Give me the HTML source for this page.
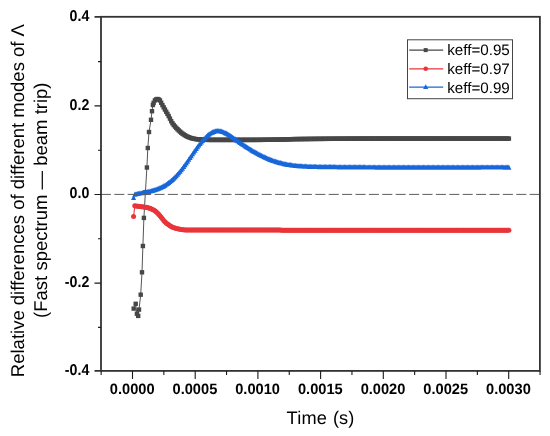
<!DOCTYPE html>
<html><head><meta charset="utf-8"><title>Relative differences of different modes of Λ</title>
<style>html,body{margin:0;padding:0;background:#fff;width:550px;height:436px;overflow:hidden}svg{display:block}</style>
</head><body>
<svg width="550" height="436" viewBox="0 0 550 436" text-rendering="geometricPrecision">
<rect width="550" height="436" fill="#fff"/>
<g fill="#474747"><polyline points="133.70,308.60 135.70,303.80 136.90,313.70 138.20,315.90 139.00,309.60 140.70,294.70 142.00,272.30 142.90,246.00 143.90,217.90 145.40,192.30 146.90,167.50 147.80,148.00 149.00,132.00 151.00,119.80 152.00,111.20 152.90,105.00 153.64,102.87 154.90,100.40 156.15,99.44 157.41,99.00 158.66,99.41 159.92,100.42 161.17,102.74 162.43,105.12 163.68,107.34 164.94,109.54 166.19,111.71 167.45,113.86 168.70,116.09 169.96,118.63 171.21,121.19 172.47,123.30 173.72,125.01 174.98,126.53 176.24,127.90 177.49,129.19 178.75,130.43 180.00,131.60 181.26,132.68 182.51,133.66 183.77,134.52 185.02,135.32 186.28,136.04 187.53,136.68 188.79,137.21 190.04,137.69 191.30,138.12 192.55,138.49 193.81,138.77 195.06,138.97 196.32,139.15 197.58,139.30 198.83,139.41 200.09,139.51 201.34,139.58 202.60,139.66 203.85,139.72 205.11,139.78 206.36,139.83 207.62,139.87 208.87,139.89 210.13,139.90 211.38,139.90 212.64,139.90 213.89,139.90 215.15,139.90 216.41,139.90 217.66,139.90 218.92,139.90 220.17,139.90 221.43,139.90 222.68,139.90 223.94,139.90 225.19,139.90 226.45,139.90 227.70,139.90 228.96,139.90 230.21,139.90 231.47,139.90 232.72,139.90 233.98,139.90 235.23,139.90 236.49,139.90 237.75,139.90 239.00,139.90 240.26,139.90 241.51,139.90 242.77,139.90 244.02,139.90 245.28,139.90 246.53,139.90 247.79,139.90 249.04,139.90 250.30,139.90 251.55,139.90 252.81,139.90 254.06,139.89 255.32,139.89 256.57,139.88 257.83,139.87 259.09,139.87 260.34,139.86 261.60,139.85 262.85,139.83 264.11,139.82 265.36,139.81 266.62,139.79 267.87,139.78 269.13,139.76 270.38,139.75 271.64,139.73 272.89,139.71 274.15,139.69 275.40,139.67 276.66,139.65 277.91,139.63 279.17,139.61 280.43,139.59 281.68,139.56 282.94,139.52 284.19,139.48 285.45,139.43 286.70,139.37 287.96,139.32 289.21,139.27 290.47,139.22 291.72,139.17 292.98,139.14 294.23,139.11 295.49,139.09 296.74,139.08 298.00,139.07 299.25,139.06 300.51,139.05 301.77,139.03 303.02,139.02 304.28,139.01 305.53,139.00 306.79,138.99 308.04,138.98 309.30,138.97 310.55,138.95 311.81,138.94 313.06,138.93 314.32,138.92 315.57,138.91 316.83,138.90 318.08,138.89 319.34,138.88 320.60,138.88 321.85,138.87 323.11,138.86 324.36,138.85 325.62,138.84 326.87,138.83 328.13,138.82 329.38,138.81 330.64,138.81 331.89,138.80 333.15,138.79 334.40,138.78 335.66,138.78 336.91,138.77 338.17,138.76 339.42,138.76 340.68,138.75 341.94,138.74 343.19,138.74 344.45,138.73 345.70,138.72 346.96,138.72 348.21,138.71 349.47,138.71 350.72,138.70 351.98,138.70 353.23,138.69 354.49,138.69 355.74,138.68 357.00,138.68 358.25,138.67 359.51,138.67 360.76,138.66 362.02,138.66 363.28,138.66 364.53,138.65 365.79,138.65 367.04,138.64 368.30,138.64 369.55,138.64 370.81,138.63 372.06,138.63 373.32,138.63 374.57,138.63 375.83,138.62 377.08,138.62 378.34,138.62 379.59,138.62 380.85,138.61 382.10,138.61 383.36,138.61 384.62,138.61 385.87,138.61 387.13,138.61 388.38,138.61 389.64,138.60 390.89,138.60 392.15,138.60 393.40,138.60 394.66,138.60 395.91,138.60 397.17,138.60 398.42,138.60 399.68,138.60 400.93,138.60 402.19,138.60 403.44,138.60 404.70,138.60 405.96,138.60 407.21,138.60 408.47,138.60 409.72,138.60 410.98,138.60 412.23,138.60 413.49,138.60 414.74,138.60 416.00,138.60 417.25,138.60 418.51,138.60 419.76,138.60 421.02,138.60 422.27,138.60 423.53,138.60 424.78,138.60 426.04,138.60 427.30,138.60 428.55,138.60 429.81,138.60 431.06,138.60 432.32,138.60 433.57,138.60 434.83,138.60 436.08,138.60 437.34,138.60 438.59,138.60 439.85,138.60 441.10,138.60 442.36,138.60 443.61,138.60 444.87,138.60 446.13,138.60 447.38,138.60 448.64,138.60 449.89,138.60 451.15,138.60 452.40,138.60 453.66,138.60 454.91,138.60 456.17,138.60 457.42,138.60 458.68,138.60 459.93,138.60 461.19,138.60 462.44,138.60 463.70,138.60 464.95,138.60 466.21,138.60 467.47,138.60 468.72,138.60 469.98,138.60 471.23,138.60 472.49,138.60 473.74,138.60 475.00,138.60 476.25,138.60 477.51,138.60 478.76,138.60 480.02,138.60 481.27,138.60 482.53,138.60 483.78,138.60 485.04,138.60 486.29,138.60 487.55,138.60 488.81,138.60 490.06,138.60 491.32,138.60 492.57,138.60 493.83,138.60 495.08,138.60 496.34,138.60 497.59,138.60 498.85,138.60 500.10,138.60 501.36,138.60 502.61,138.60 503.87,138.60 505.12,138.60 506.38,138.60 507.63,138.60 508.89,138.60" fill="none" stroke="#555" stroke-width="1.0"/><rect x="131.50" y="306.40" width="4.4" height="4.4"/><rect x="133.50" y="301.60" width="4.4" height="4.4"/><rect x="134.70" y="311.50" width="4.4" height="4.4"/><rect x="136.00" y="313.70" width="4.4" height="4.4"/><rect x="136.80" y="307.40" width="4.4" height="4.4"/><rect x="138.50" y="292.50" width="4.4" height="4.4"/><rect x="139.80" y="270.10" width="4.4" height="4.4"/><rect x="140.70" y="243.80" width="4.4" height="4.4"/><rect x="141.70" y="215.70" width="4.4" height="4.4"/><rect x="143.20" y="190.10" width="4.4" height="4.4"/><rect x="144.70" y="165.30" width="4.4" height="4.4"/><rect x="145.60" y="145.80" width="4.4" height="4.4"/><rect x="146.80" y="129.80" width="4.4" height="4.4"/><rect x="148.80" y="117.60" width="4.4" height="4.4"/><rect x="149.80" y="109.00" width="4.4" height="4.4"/><rect x="150.70" y="102.80" width="4.4" height="4.4"/><rect x="151.44" y="100.67" width="4.4" height="4.4"/><rect x="152.70" y="98.20" width="4.4" height="4.4"/><rect x="153.95" y="97.24" width="4.4" height="4.4"/><rect x="155.21" y="96.80" width="4.4" height="4.4"/><rect x="156.46" y="97.21" width="4.4" height="4.4"/><rect x="157.72" y="98.22" width="4.4" height="4.4"/><rect x="158.97" y="100.54" width="4.4" height="4.4"/><rect x="160.23" y="102.92" width="4.4" height="4.4"/><rect x="161.48" y="105.14" width="4.4" height="4.4"/><rect x="162.74" y="107.34" width="4.4" height="4.4"/><rect x="163.99" y="109.51" width="4.4" height="4.4"/><rect x="165.25" y="111.66" width="4.4" height="4.4"/><rect x="166.50" y="113.89" width="4.4" height="4.4"/><rect x="167.76" y="116.43" width="4.4" height="4.4"/><rect x="169.01" y="118.99" width="4.4" height="4.4"/><rect x="170.27" y="121.10" width="4.4" height="4.4"/><rect x="171.52" y="122.81" width="4.4" height="4.4"/><rect x="172.78" y="124.33" width="4.4" height="4.4"/><rect x="174.04" y="125.70" width="4.4" height="4.4"/><rect x="175.29" y="126.99" width="4.4" height="4.4"/><rect x="176.55" y="128.23" width="4.4" height="4.4"/><rect x="177.80" y="129.40" width="4.4" height="4.4"/><rect x="179.06" y="130.48" width="4.4" height="4.4"/><rect x="180.31" y="131.46" width="4.4" height="4.4"/><rect x="181.57" y="132.32" width="4.4" height="4.4"/><rect x="182.82" y="133.12" width="4.4" height="4.4"/><rect x="184.08" y="133.84" width="4.4" height="4.4"/><rect x="185.33" y="134.48" width="4.4" height="4.4"/><rect x="186.59" y="135.01" width="4.4" height="4.4"/><rect x="187.84" y="135.49" width="4.4" height="4.4"/><rect x="189.10" y="135.92" width="4.4" height="4.4"/><rect x="190.35" y="136.29" width="4.4" height="4.4"/><rect x="191.61" y="136.57" width="4.4" height="4.4"/><rect x="192.87" y="136.77" width="4.4" height="4.4"/><rect x="194.12" y="136.95" width="4.4" height="4.4"/><rect x="195.38" y="137.10" width="4.4" height="4.4"/><rect x="196.63" y="137.21" width="4.4" height="4.4"/><rect x="197.89" y="137.31" width="4.4" height="4.4"/><rect x="199.14" y="137.38" width="4.4" height="4.4"/><rect x="200.40" y="137.46" width="4.4" height="4.4"/><rect x="201.65" y="137.52" width="4.4" height="4.4"/><rect x="202.91" y="137.58" width="4.4" height="4.4"/><rect x="204.16" y="137.63" width="4.4" height="4.4"/><rect x="205.42" y="137.67" width="4.4" height="4.4"/><rect x="206.67" y="137.69" width="4.4" height="4.4"/><rect x="207.93" y="137.70" width="4.4" height="4.4"/><rect x="209.18" y="137.70" width="4.4" height="4.4"/><rect x="210.44" y="137.70" width="4.4" height="4.4"/><rect x="211.69" y="137.70" width="4.4" height="4.4"/><rect x="212.95" y="137.70" width="4.4" height="4.4"/><rect x="214.21" y="137.70" width="4.4" height="4.4"/><rect x="215.46" y="137.70" width="4.4" height="4.4"/><rect x="216.72" y="137.70" width="4.4" height="4.4"/><rect x="217.97" y="137.70" width="4.4" height="4.4"/><rect x="219.23" y="137.70" width="4.4" height="4.4"/><rect x="220.48" y="137.70" width="4.4" height="4.4"/><rect x="221.74" y="137.70" width="4.4" height="4.4"/><rect x="222.99" y="137.70" width="4.4" height="4.4"/><rect x="224.25" y="137.70" width="4.4" height="4.4"/><rect x="225.50" y="137.70" width="4.4" height="4.4"/><rect x="226.76" y="137.70" width="4.4" height="4.4"/><rect x="228.01" y="137.70" width="4.4" height="4.4"/><rect x="229.27" y="137.70" width="4.4" height="4.4"/><rect x="230.52" y="137.70" width="4.4" height="4.4"/><rect x="231.78" y="137.70" width="4.4" height="4.4"/><rect x="233.03" y="137.70" width="4.4" height="4.4"/><rect x="234.29" y="137.70" width="4.4" height="4.4"/><rect x="235.55" y="137.70" width="4.4" height="4.4"/><rect x="236.80" y="137.70" width="4.4" height="4.4"/><rect x="238.06" y="137.70" width="4.4" height="4.4"/><rect x="239.31" y="137.70" width="4.4" height="4.4"/><rect x="240.57" y="137.70" width="4.4" height="4.4"/><rect x="241.82" y="137.70" width="4.4" height="4.4"/><rect x="243.08" y="137.70" width="4.4" height="4.4"/><rect x="244.33" y="137.70" width="4.4" height="4.4"/><rect x="245.59" y="137.70" width="4.4" height="4.4"/><rect x="246.84" y="137.70" width="4.4" height="4.4"/><rect x="248.10" y="137.70" width="4.4" height="4.4"/><rect x="249.35" y="137.70" width="4.4" height="4.4"/><rect x="250.61" y="137.70" width="4.4" height="4.4"/><rect x="251.86" y="137.69" width="4.4" height="4.4"/><rect x="253.12" y="137.69" width="4.4" height="4.4"/><rect x="254.37" y="137.68" width="4.4" height="4.4"/><rect x="255.63" y="137.67" width="4.4" height="4.4"/><rect x="256.89" y="137.67" width="4.4" height="4.4"/><rect x="258.14" y="137.66" width="4.4" height="4.4"/><rect x="259.40" y="137.65" width="4.4" height="4.4"/><rect x="260.65" y="137.63" width="4.4" height="4.4"/><rect x="261.91" y="137.62" width="4.4" height="4.4"/><rect x="263.16" y="137.61" width="4.4" height="4.4"/><rect x="264.42" y="137.59" width="4.4" height="4.4"/><rect x="265.67" y="137.58" width="4.4" height="4.4"/><rect x="266.93" y="137.56" width="4.4" height="4.4"/><rect x="268.18" y="137.55" width="4.4" height="4.4"/><rect x="269.44" y="137.53" width="4.4" height="4.4"/><rect x="270.69" y="137.51" width="4.4" height="4.4"/><rect x="271.95" y="137.49" width="4.4" height="4.4"/><rect x="273.20" y="137.47" width="4.4" height="4.4"/><rect x="274.46" y="137.45" width="4.4" height="4.4"/><rect x="275.71" y="137.43" width="4.4" height="4.4"/><rect x="276.97" y="137.41" width="4.4" height="4.4"/><rect x="278.23" y="137.39" width="4.4" height="4.4"/><rect x="279.48" y="137.36" width="4.4" height="4.4"/><rect x="280.74" y="137.32" width="4.4" height="4.4"/><rect x="281.99" y="137.28" width="4.4" height="4.4"/><rect x="283.25" y="137.23" width="4.4" height="4.4"/><rect x="284.50" y="137.17" width="4.4" height="4.4"/><rect x="285.76" y="137.12" width="4.4" height="4.4"/><rect x="287.01" y="137.07" width="4.4" height="4.4"/><rect x="288.27" y="137.02" width="4.4" height="4.4"/><rect x="289.52" y="136.97" width="4.4" height="4.4"/><rect x="290.78" y="136.94" width="4.4" height="4.4"/><rect x="292.03" y="136.91" width="4.4" height="4.4"/><rect x="293.29" y="136.89" width="4.4" height="4.4"/><rect x="294.54" y="136.88" width="4.4" height="4.4"/><rect x="295.80" y="136.87" width="4.4" height="4.4"/><rect x="297.05" y="136.86" width="4.4" height="4.4"/><rect x="298.31" y="136.85" width="4.4" height="4.4"/><rect x="299.57" y="136.83" width="4.4" height="4.4"/><rect x="300.82" y="136.82" width="4.4" height="4.4"/><rect x="302.08" y="136.81" width="4.4" height="4.4"/><rect x="303.33" y="136.80" width="4.4" height="4.4"/><rect x="304.59" y="136.79" width="4.4" height="4.4"/><rect x="305.84" y="136.78" width="4.4" height="4.4"/><rect x="307.10" y="136.77" width="4.4" height="4.4"/><rect x="308.35" y="136.75" width="4.4" height="4.4"/><rect x="309.61" y="136.74" width="4.4" height="4.4"/><rect x="310.86" y="136.73" width="4.4" height="4.4"/><rect x="312.12" y="136.72" width="4.4" height="4.4"/><rect x="313.37" y="136.71" width="4.4" height="4.4"/><rect x="314.63" y="136.70" width="4.4" height="4.4"/><rect x="315.88" y="136.69" width="4.4" height="4.4"/><rect x="317.14" y="136.68" width="4.4" height="4.4"/><rect x="318.40" y="136.68" width="4.4" height="4.4"/><rect x="319.65" y="136.67" width="4.4" height="4.4"/><rect x="320.91" y="136.66" width="4.4" height="4.4"/><rect x="322.16" y="136.65" width="4.4" height="4.4"/><rect x="323.42" y="136.64" width="4.4" height="4.4"/><rect x="324.67" y="136.63" width="4.4" height="4.4"/><rect x="325.93" y="136.62" width="4.4" height="4.4"/><rect x="327.18" y="136.61" width="4.4" height="4.4"/><rect x="328.44" y="136.61" width="4.4" height="4.4"/><rect x="329.69" y="136.60" width="4.4" height="4.4"/><rect x="330.95" y="136.59" width="4.4" height="4.4"/><rect x="332.20" y="136.58" width="4.4" height="4.4"/><rect x="333.46" y="136.58" width="4.4" height="4.4"/><rect x="334.71" y="136.57" width="4.4" height="4.4"/><rect x="335.97" y="136.56" width="4.4" height="4.4"/><rect x="337.22" y="136.56" width="4.4" height="4.4"/><rect x="338.48" y="136.55" width="4.4" height="4.4"/><rect x="339.74" y="136.54" width="4.4" height="4.4"/><rect x="340.99" y="136.54" width="4.4" height="4.4"/><rect x="342.25" y="136.53" width="4.4" height="4.4"/><rect x="343.50" y="136.52" width="4.4" height="4.4"/><rect x="344.76" y="136.52" width="4.4" height="4.4"/><rect x="346.01" y="136.51" width="4.4" height="4.4"/><rect x="347.27" y="136.51" width="4.4" height="4.4"/><rect x="348.52" y="136.50" width="4.4" height="4.4"/><rect x="349.78" y="136.50" width="4.4" height="4.4"/><rect x="351.03" y="136.49" width="4.4" height="4.4"/><rect x="352.29" y="136.49" width="4.4" height="4.4"/><rect x="353.54" y="136.48" width="4.4" height="4.4"/><rect x="354.80" y="136.48" width="4.4" height="4.4"/><rect x="356.05" y="136.47" width="4.4" height="4.4"/><rect x="357.31" y="136.47" width="4.4" height="4.4"/><rect x="358.56" y="136.46" width="4.4" height="4.4"/><rect x="359.82" y="136.46" width="4.4" height="4.4"/><rect x="361.08" y="136.46" width="4.4" height="4.4"/><rect x="362.33" y="136.45" width="4.4" height="4.4"/><rect x="363.59" y="136.45" width="4.4" height="4.4"/><rect x="364.84" y="136.44" width="4.4" height="4.4"/><rect x="366.10" y="136.44" width="4.4" height="4.4"/><rect x="367.35" y="136.44" width="4.4" height="4.4"/><rect x="368.61" y="136.43" width="4.4" height="4.4"/><rect x="369.86" y="136.43" width="4.4" height="4.4"/><rect x="371.12" y="136.43" width="4.4" height="4.4"/><rect x="372.37" y="136.43" width="4.4" height="4.4"/><rect x="373.63" y="136.42" width="4.4" height="4.4"/><rect x="374.88" y="136.42" width="4.4" height="4.4"/><rect x="376.14" y="136.42" width="4.4" height="4.4"/><rect x="377.39" y="136.42" width="4.4" height="4.4"/><rect x="378.65" y="136.41" width="4.4" height="4.4"/><rect x="379.90" y="136.41" width="4.4" height="4.4"/><rect x="381.16" y="136.41" width="4.4" height="4.4"/><rect x="382.42" y="136.41" width="4.4" height="4.4"/><rect x="383.67" y="136.41" width="4.4" height="4.4"/><rect x="384.93" y="136.41" width="4.4" height="4.4"/><rect x="386.18" y="136.41" width="4.4" height="4.4"/><rect x="387.44" y="136.40" width="4.4" height="4.4"/><rect x="388.69" y="136.40" width="4.4" height="4.4"/><rect x="389.95" y="136.40" width="4.4" height="4.4"/><rect x="391.20" y="136.40" width="4.4" height="4.4"/><rect x="392.46" y="136.40" width="4.4" height="4.4"/><rect x="393.71" y="136.40" width="4.4" height="4.4"/><rect x="394.97" y="136.40" width="4.4" height="4.4"/><rect x="396.22" y="136.40" width="4.4" height="4.4"/><rect x="397.48" y="136.40" width="4.4" height="4.4"/><rect x="398.73" y="136.40" width="4.4" height="4.4"/><rect x="399.99" y="136.40" width="4.4" height="4.4"/><rect x="401.24" y="136.40" width="4.4" height="4.4"/><rect x="402.50" y="136.40" width="4.4" height="4.4"/><rect x="403.76" y="136.40" width="4.4" height="4.4"/><rect x="405.01" y="136.40" width="4.4" height="4.4"/><rect x="406.27" y="136.40" width="4.4" height="4.4"/><rect x="407.52" y="136.40" width="4.4" height="4.4"/><rect x="408.78" y="136.40" width="4.4" height="4.4"/><rect x="410.03" y="136.40" width="4.4" height="4.4"/><rect x="411.29" y="136.40" width="4.4" height="4.4"/><rect x="412.54" y="136.40" width="4.4" height="4.4"/><rect x="413.80" y="136.40" width="4.4" height="4.4"/><rect x="415.05" y="136.40" width="4.4" height="4.4"/><rect x="416.31" y="136.40" width="4.4" height="4.4"/><rect x="417.56" y="136.40" width="4.4" height="4.4"/><rect x="418.82" y="136.40" width="4.4" height="4.4"/><rect x="420.07" y="136.40" width="4.4" height="4.4"/><rect x="421.33" y="136.40" width="4.4" height="4.4"/><rect x="422.58" y="136.40" width="4.4" height="4.4"/><rect x="423.84" y="136.40" width="4.4" height="4.4"/><rect x="425.10" y="136.40" width="4.4" height="4.4"/><rect x="426.35" y="136.40" width="4.4" height="4.4"/><rect x="427.61" y="136.40" width="4.4" height="4.4"/><rect x="428.86" y="136.40" width="4.4" height="4.4"/><rect x="430.12" y="136.40" width="4.4" height="4.4"/><rect x="431.37" y="136.40" width="4.4" height="4.4"/><rect x="432.63" y="136.40" width="4.4" height="4.4"/><rect x="433.88" y="136.40" width="4.4" height="4.4"/><rect x="435.14" y="136.40" width="4.4" height="4.4"/><rect x="436.39" y="136.40" width="4.4" height="4.4"/><rect x="437.65" y="136.40" width="4.4" height="4.4"/><rect x="438.90" y="136.40" width="4.4" height="4.4"/><rect x="440.16" y="136.40" width="4.4" height="4.4"/><rect x="441.41" y="136.40" width="4.4" height="4.4"/><rect x="442.67" y="136.40" width="4.4" height="4.4"/><rect x="443.93" y="136.40" width="4.4" height="4.4"/><rect x="445.18" y="136.40" width="4.4" height="4.4"/><rect x="446.44" y="136.40" width="4.4" height="4.4"/><rect x="447.69" y="136.40" width="4.4" height="4.4"/><rect x="448.95" y="136.40" width="4.4" height="4.4"/><rect x="450.20" y="136.40" width="4.4" height="4.4"/><rect x="451.46" y="136.40" width="4.4" height="4.4"/><rect x="452.71" y="136.40" width="4.4" height="4.4"/><rect x="453.97" y="136.40" width="4.4" height="4.4"/><rect x="455.22" y="136.40" width="4.4" height="4.4"/><rect x="456.48" y="136.40" width="4.4" height="4.4"/><rect x="457.73" y="136.40" width="4.4" height="4.4"/><rect x="458.99" y="136.40" width="4.4" height="4.4"/><rect x="460.24" y="136.40" width="4.4" height="4.4"/><rect x="461.50" y="136.40" width="4.4" height="4.4"/><rect x="462.75" y="136.40" width="4.4" height="4.4"/><rect x="464.01" y="136.40" width="4.4" height="4.4"/><rect x="465.27" y="136.40" width="4.4" height="4.4"/><rect x="466.52" y="136.40" width="4.4" height="4.4"/><rect x="467.78" y="136.40" width="4.4" height="4.4"/><rect x="469.03" y="136.40" width="4.4" height="4.4"/><rect x="470.29" y="136.40" width="4.4" height="4.4"/><rect x="471.54" y="136.40" width="4.4" height="4.4"/><rect x="472.80" y="136.40" width="4.4" height="4.4"/><rect x="474.05" y="136.40" width="4.4" height="4.4"/><rect x="475.31" y="136.40" width="4.4" height="4.4"/><rect x="476.56" y="136.40" width="4.4" height="4.4"/><rect x="477.82" y="136.40" width="4.4" height="4.4"/><rect x="479.07" y="136.40" width="4.4" height="4.4"/><rect x="480.33" y="136.40" width="4.4" height="4.4"/><rect x="481.58" y="136.40" width="4.4" height="4.4"/><rect x="482.84" y="136.40" width="4.4" height="4.4"/><rect x="484.09" y="136.40" width="4.4" height="4.4"/><rect x="485.35" y="136.40" width="4.4" height="4.4"/><rect x="486.61" y="136.40" width="4.4" height="4.4"/><rect x="487.86" y="136.40" width="4.4" height="4.4"/><rect x="489.12" y="136.40" width="4.4" height="4.4"/><rect x="490.37" y="136.40" width="4.4" height="4.4"/><rect x="491.63" y="136.40" width="4.4" height="4.4"/><rect x="492.88" y="136.40" width="4.4" height="4.4"/><rect x="494.14" y="136.40" width="4.4" height="4.4"/><rect x="495.39" y="136.40" width="4.4" height="4.4"/><rect x="496.65" y="136.40" width="4.4" height="4.4"/><rect x="497.90" y="136.40" width="4.4" height="4.4"/><rect x="499.16" y="136.40" width="4.4" height="4.4"/><rect x="500.41" y="136.40" width="4.4" height="4.4"/><rect x="501.67" y="136.40" width="4.4" height="4.4"/><rect x="502.92" y="136.40" width="4.4" height="4.4"/><rect x="504.18" y="136.40" width="4.4" height="4.4"/><rect x="505.43" y="136.40" width="4.4" height="4.4"/><rect x="506.69" y="136.40" width="4.4" height="4.4"/></g>
<g fill="#E8353A"><polyline points="133.56,216.60 134.81,205.80 136.07,205.96 137.32,206.13 138.58,206.30 139.83,206.48 141.09,206.65 142.34,206.81 143.60,206.97 144.85,207.15 146.11,207.36 147.36,207.61 148.62,207.94 149.87,208.34 151.13,208.82 152.38,209.38 153.64,210.02 154.90,210.75 156.15,211.76 157.41,212.99 158.66,214.28 159.92,215.72 161.17,217.24 162.43,218.78 163.68,220.40 164.94,221.84 166.19,222.98 167.45,223.97 168.70,224.87 169.96,225.75 171.21,226.56 172.47,227.17 173.72,227.66 174.98,228.09 176.24,228.47 177.49,228.80 178.75,229.07 180.00,229.28 181.26,229.48 182.51,229.66 183.77,229.82 185.02,229.93 186.28,229.99 187.53,230.00 188.79,230.00 190.04,230.01 191.30,230.01 192.55,230.01 193.81,230.01 195.06,230.01 196.32,230.02 197.58,230.02 198.83,230.02 200.09,230.02 201.34,230.02 202.60,230.03 203.85,230.03 205.11,230.03 206.36,230.03 207.62,230.03 208.87,230.04 210.13,230.04 211.38,230.04 212.64,230.04 213.89,230.04 215.15,230.05 216.41,230.05 217.66,230.05 218.92,230.05 220.17,230.05 221.43,230.06 222.68,230.06 223.94,230.06 225.19,230.06 226.45,230.06 227.70,230.06 228.96,230.07 230.21,230.07 231.47,230.07 232.72,230.07 233.98,230.07 235.23,230.07 236.49,230.08 237.75,230.08 239.00,230.08 240.26,230.08 241.51,230.08 242.77,230.08 244.02,230.09 245.28,230.09 246.53,230.09 247.79,230.09 249.04,230.09 250.30,230.09 251.55,230.09 252.81,230.10 254.06,230.10 255.32,230.10 256.57,230.10 257.83,230.10 259.09,230.10 260.34,230.10 261.60,230.11 262.85,230.11 264.11,230.11 265.36,230.11 266.62,230.11 267.87,230.11 269.13,230.11 270.38,230.11 271.64,230.12 272.89,230.12 274.15,230.12 275.40,230.12 276.66,230.12 277.91,230.12 279.17,230.12 280.43,230.12 281.68,230.13 282.94,230.13 284.19,230.13 285.45,230.13 286.70,230.13 287.96,230.13 289.21,230.13 290.47,230.13 291.72,230.13 292.98,230.14 294.23,230.14 295.49,230.14 296.74,230.14 298.00,230.14 299.25,230.14 300.51,230.14 301.77,230.14 303.02,230.14 304.28,230.14 305.53,230.15 306.79,230.15 308.04,230.15 309.30,230.15 310.55,230.15 311.81,230.15 313.06,230.15 314.32,230.15 315.57,230.15 316.83,230.15 318.08,230.15 319.34,230.15 320.60,230.16 321.85,230.16 323.11,230.16 324.36,230.16 325.62,230.16 326.87,230.16 328.13,230.16 329.38,230.16 330.64,230.16 331.89,230.16 333.15,230.16 334.40,230.16 335.66,230.16 336.91,230.17 338.17,230.17 339.42,230.17 340.68,230.17 341.94,230.17 343.19,230.17 344.45,230.17 345.70,230.17 346.96,230.17 348.21,230.17 349.47,230.17 350.72,230.17 351.98,230.17 353.23,230.17 354.49,230.17 355.74,230.17 357.00,230.18 358.25,230.18 359.51,230.18 360.76,230.18 362.02,230.18 363.28,230.18 364.53,230.18 365.79,230.18 367.04,230.18 368.30,230.18 369.55,230.18 370.81,230.18 372.06,230.18 373.32,230.18 374.57,230.18 375.83,230.18 377.08,230.18 378.34,230.18 379.59,230.18 380.85,230.18 382.10,230.18 383.36,230.19 384.62,230.19 385.87,230.19 387.13,230.19 388.38,230.19 389.64,230.19 390.89,230.19 392.15,230.19 393.40,230.19 394.66,230.19 395.91,230.19 397.17,230.19 398.42,230.19 399.68,230.19 400.93,230.19 402.19,230.19 403.44,230.19 404.70,230.19 405.96,230.19 407.21,230.19 408.47,230.19 409.72,230.19 410.98,230.19 412.23,230.19 413.49,230.19 414.74,230.19 416.00,230.19 417.25,230.19 418.51,230.19 419.76,230.19 421.02,230.19 422.27,230.19 423.53,230.19 424.78,230.19 426.04,230.19 427.30,230.20 428.55,230.20 429.81,230.20 431.06,230.20 432.32,230.20 433.57,230.20 434.83,230.20 436.08,230.20 437.34,230.20 438.59,230.20 439.85,230.20 441.10,230.20 442.36,230.20 443.61,230.20 444.87,230.20 446.13,230.20 447.38,230.20 448.64,230.20 449.89,230.20 451.15,230.20 452.40,230.20 453.66,230.20 454.91,230.20 456.17,230.20 457.42,230.20 458.68,230.20 459.93,230.20 461.19,230.20 462.44,230.20 463.70,230.20 464.95,230.20 466.21,230.20 467.47,230.20 468.72,230.20 469.98,230.20 471.23,230.20 472.49,230.20 473.74,230.20 475.00,230.20 476.25,230.20 477.51,230.20 478.76,230.20 480.02,230.20 481.27,230.20 482.53,230.20 483.78,230.20 485.04,230.20 486.29,230.20 487.55,230.20 488.81,230.20 490.06,230.20 491.32,230.20 492.57,230.20 493.83,230.20 495.08,230.20 496.34,230.20 497.59,230.20 498.85,230.20 500.10,230.20 501.36,230.20 502.61,230.20 503.87,230.20 505.12,230.20 506.38,230.20 507.63,230.20 508.89,230.20" fill="none" stroke="#E8353A" stroke-width="1.1"/><circle cx="133.56" cy="216.60" r="2.5"/><circle cx="134.81" cy="205.80" r="2.5"/><circle cx="136.07" cy="205.96" r="2.5"/><circle cx="137.32" cy="206.13" r="2.5"/><circle cx="138.58" cy="206.30" r="2.5"/><circle cx="139.83" cy="206.48" r="2.5"/><circle cx="141.09" cy="206.65" r="2.5"/><circle cx="142.34" cy="206.81" r="2.5"/><circle cx="143.60" cy="206.97" r="2.5"/><circle cx="144.85" cy="207.15" r="2.5"/><circle cx="146.11" cy="207.36" r="2.5"/><circle cx="147.36" cy="207.61" r="2.5"/><circle cx="148.62" cy="207.94" r="2.5"/><circle cx="149.87" cy="208.34" r="2.5"/><circle cx="151.13" cy="208.82" r="2.5"/><circle cx="152.38" cy="209.38" r="2.5"/><circle cx="153.64" cy="210.02" r="2.5"/><circle cx="154.90" cy="210.75" r="2.5"/><circle cx="156.15" cy="211.76" r="2.5"/><circle cx="157.41" cy="212.99" r="2.5"/><circle cx="158.66" cy="214.28" r="2.5"/><circle cx="159.92" cy="215.72" r="2.5"/><circle cx="161.17" cy="217.24" r="2.5"/><circle cx="162.43" cy="218.78" r="2.5"/><circle cx="163.68" cy="220.40" r="2.5"/><circle cx="164.94" cy="221.84" r="2.5"/><circle cx="166.19" cy="222.98" r="2.5"/><circle cx="167.45" cy="223.97" r="2.5"/><circle cx="168.70" cy="224.87" r="2.5"/><circle cx="169.96" cy="225.75" r="2.5"/><circle cx="171.21" cy="226.56" r="2.5"/><circle cx="172.47" cy="227.17" r="2.5"/><circle cx="173.72" cy="227.66" r="2.5"/><circle cx="174.98" cy="228.09" r="2.5"/><circle cx="176.24" cy="228.47" r="2.5"/><circle cx="177.49" cy="228.80" r="2.5"/><circle cx="178.75" cy="229.07" r="2.5"/><circle cx="180.00" cy="229.28" r="2.5"/><circle cx="181.26" cy="229.48" r="2.5"/><circle cx="182.51" cy="229.66" r="2.5"/><circle cx="183.77" cy="229.82" r="2.5"/><circle cx="185.02" cy="229.93" r="2.5"/><circle cx="186.28" cy="229.99" r="2.5"/><circle cx="187.53" cy="230.00" r="2.5"/><circle cx="188.79" cy="230.00" r="2.5"/><circle cx="190.04" cy="230.01" r="2.5"/><circle cx="191.30" cy="230.01" r="2.5"/><circle cx="192.55" cy="230.01" r="2.5"/><circle cx="193.81" cy="230.01" r="2.5"/><circle cx="195.06" cy="230.01" r="2.5"/><circle cx="196.32" cy="230.02" r="2.5"/><circle cx="197.58" cy="230.02" r="2.5"/><circle cx="198.83" cy="230.02" r="2.5"/><circle cx="200.09" cy="230.02" r="2.5"/><circle cx="201.34" cy="230.02" r="2.5"/><circle cx="202.60" cy="230.03" r="2.5"/><circle cx="203.85" cy="230.03" r="2.5"/><circle cx="205.11" cy="230.03" r="2.5"/><circle cx="206.36" cy="230.03" r="2.5"/><circle cx="207.62" cy="230.03" r="2.5"/><circle cx="208.87" cy="230.04" r="2.5"/><circle cx="210.13" cy="230.04" r="2.5"/><circle cx="211.38" cy="230.04" r="2.5"/><circle cx="212.64" cy="230.04" r="2.5"/><circle cx="213.89" cy="230.04" r="2.5"/><circle cx="215.15" cy="230.05" r="2.5"/><circle cx="216.41" cy="230.05" r="2.5"/><circle cx="217.66" cy="230.05" r="2.5"/><circle cx="218.92" cy="230.05" r="2.5"/><circle cx="220.17" cy="230.05" r="2.5"/><circle cx="221.43" cy="230.06" r="2.5"/><circle cx="222.68" cy="230.06" r="2.5"/><circle cx="223.94" cy="230.06" r="2.5"/><circle cx="225.19" cy="230.06" r="2.5"/><circle cx="226.45" cy="230.06" r="2.5"/><circle cx="227.70" cy="230.06" r="2.5"/><circle cx="228.96" cy="230.07" r="2.5"/><circle cx="230.21" cy="230.07" r="2.5"/><circle cx="231.47" cy="230.07" r="2.5"/><circle cx="232.72" cy="230.07" r="2.5"/><circle cx="233.98" cy="230.07" r="2.5"/><circle cx="235.23" cy="230.07" r="2.5"/><circle cx="236.49" cy="230.08" r="2.5"/><circle cx="237.75" cy="230.08" r="2.5"/><circle cx="239.00" cy="230.08" r="2.5"/><circle cx="240.26" cy="230.08" r="2.5"/><circle cx="241.51" cy="230.08" r="2.5"/><circle cx="242.77" cy="230.08" r="2.5"/><circle cx="244.02" cy="230.09" r="2.5"/><circle cx="245.28" cy="230.09" r="2.5"/><circle cx="246.53" cy="230.09" r="2.5"/><circle cx="247.79" cy="230.09" r="2.5"/><circle cx="249.04" cy="230.09" r="2.5"/><circle cx="250.30" cy="230.09" r="2.5"/><circle cx="251.55" cy="230.09" r="2.5"/><circle cx="252.81" cy="230.10" r="2.5"/><circle cx="254.06" cy="230.10" r="2.5"/><circle cx="255.32" cy="230.10" r="2.5"/><circle cx="256.57" cy="230.10" r="2.5"/><circle cx="257.83" cy="230.10" r="2.5"/><circle cx="259.09" cy="230.10" r="2.5"/><circle cx="260.34" cy="230.10" r="2.5"/><circle cx="261.60" cy="230.11" r="2.5"/><circle cx="262.85" cy="230.11" r="2.5"/><circle cx="264.11" cy="230.11" r="2.5"/><circle cx="265.36" cy="230.11" r="2.5"/><circle cx="266.62" cy="230.11" r="2.5"/><circle cx="267.87" cy="230.11" r="2.5"/><circle cx="269.13" cy="230.11" r="2.5"/><circle cx="270.38" cy="230.11" r="2.5"/><circle cx="271.64" cy="230.12" r="2.5"/><circle cx="272.89" cy="230.12" r="2.5"/><circle cx="274.15" cy="230.12" r="2.5"/><circle cx="275.40" cy="230.12" r="2.5"/><circle cx="276.66" cy="230.12" r="2.5"/><circle cx="277.91" cy="230.12" r="2.5"/><circle cx="279.17" cy="230.12" r="2.5"/><circle cx="280.43" cy="230.12" r="2.5"/><circle cx="281.68" cy="230.13" r="2.5"/><circle cx="282.94" cy="230.13" r="2.5"/><circle cx="284.19" cy="230.13" r="2.5"/><circle cx="285.45" cy="230.13" r="2.5"/><circle cx="286.70" cy="230.13" r="2.5"/><circle cx="287.96" cy="230.13" r="2.5"/><circle cx="289.21" cy="230.13" r="2.5"/><circle cx="290.47" cy="230.13" r="2.5"/><circle cx="291.72" cy="230.13" r="2.5"/><circle cx="292.98" cy="230.14" r="2.5"/><circle cx="294.23" cy="230.14" r="2.5"/><circle cx="295.49" cy="230.14" r="2.5"/><circle cx="296.74" cy="230.14" r="2.5"/><circle cx="298.00" cy="230.14" r="2.5"/><circle cx="299.25" cy="230.14" r="2.5"/><circle cx="300.51" cy="230.14" r="2.5"/><circle cx="301.77" cy="230.14" r="2.5"/><circle cx="303.02" cy="230.14" r="2.5"/><circle cx="304.28" cy="230.14" r="2.5"/><circle cx="305.53" cy="230.15" r="2.5"/><circle cx="306.79" cy="230.15" r="2.5"/><circle cx="308.04" cy="230.15" r="2.5"/><circle cx="309.30" cy="230.15" r="2.5"/><circle cx="310.55" cy="230.15" r="2.5"/><circle cx="311.81" cy="230.15" r="2.5"/><circle cx="313.06" cy="230.15" r="2.5"/><circle cx="314.32" cy="230.15" r="2.5"/><circle cx="315.57" cy="230.15" r="2.5"/><circle cx="316.83" cy="230.15" r="2.5"/><circle cx="318.08" cy="230.15" r="2.5"/><circle cx="319.34" cy="230.15" r="2.5"/><circle cx="320.60" cy="230.16" r="2.5"/><circle cx="321.85" cy="230.16" r="2.5"/><circle cx="323.11" cy="230.16" r="2.5"/><circle cx="324.36" cy="230.16" r="2.5"/><circle cx="325.62" cy="230.16" r="2.5"/><circle cx="326.87" cy="230.16" r="2.5"/><circle cx="328.13" cy="230.16" r="2.5"/><circle cx="329.38" cy="230.16" r="2.5"/><circle cx="330.64" cy="230.16" r="2.5"/><circle cx="331.89" cy="230.16" r="2.5"/><circle cx="333.15" cy="230.16" r="2.5"/><circle cx="334.40" cy="230.16" r="2.5"/><circle cx="335.66" cy="230.16" r="2.5"/><circle cx="336.91" cy="230.17" r="2.5"/><circle cx="338.17" cy="230.17" r="2.5"/><circle cx="339.42" cy="230.17" r="2.5"/><circle cx="340.68" cy="230.17" r="2.5"/><circle cx="341.94" cy="230.17" r="2.5"/><circle cx="343.19" cy="230.17" r="2.5"/><circle cx="344.45" cy="230.17" r="2.5"/><circle cx="345.70" cy="230.17" r="2.5"/><circle cx="346.96" cy="230.17" r="2.5"/><circle cx="348.21" cy="230.17" r="2.5"/><circle cx="349.47" cy="230.17" r="2.5"/><circle cx="350.72" cy="230.17" r="2.5"/><circle cx="351.98" cy="230.17" r="2.5"/><circle cx="353.23" cy="230.17" r="2.5"/><circle cx="354.49" cy="230.17" r="2.5"/><circle cx="355.74" cy="230.17" r="2.5"/><circle cx="357.00" cy="230.18" r="2.5"/><circle cx="358.25" cy="230.18" r="2.5"/><circle cx="359.51" cy="230.18" r="2.5"/><circle cx="360.76" cy="230.18" r="2.5"/><circle cx="362.02" cy="230.18" r="2.5"/><circle cx="363.28" cy="230.18" r="2.5"/><circle cx="364.53" cy="230.18" r="2.5"/><circle cx="365.79" cy="230.18" r="2.5"/><circle cx="367.04" cy="230.18" r="2.5"/><circle cx="368.30" cy="230.18" r="2.5"/><circle cx="369.55" cy="230.18" r="2.5"/><circle cx="370.81" cy="230.18" r="2.5"/><circle cx="372.06" cy="230.18" r="2.5"/><circle cx="373.32" cy="230.18" r="2.5"/><circle cx="374.57" cy="230.18" r="2.5"/><circle cx="375.83" cy="230.18" r="2.5"/><circle cx="377.08" cy="230.18" r="2.5"/><circle cx="378.34" cy="230.18" r="2.5"/><circle cx="379.59" cy="230.18" r="2.5"/><circle cx="380.85" cy="230.18" r="2.5"/><circle cx="382.10" cy="230.18" r="2.5"/><circle cx="383.36" cy="230.19" r="2.5"/><circle cx="384.62" cy="230.19" r="2.5"/><circle cx="385.87" cy="230.19" r="2.5"/><circle cx="387.13" cy="230.19" r="2.5"/><circle cx="388.38" cy="230.19" r="2.5"/><circle cx="389.64" cy="230.19" r="2.5"/><circle cx="390.89" cy="230.19" r="2.5"/><circle cx="392.15" cy="230.19" r="2.5"/><circle cx="393.40" cy="230.19" r="2.5"/><circle cx="394.66" cy="230.19" r="2.5"/><circle cx="395.91" cy="230.19" r="2.5"/><circle cx="397.17" cy="230.19" r="2.5"/><circle cx="398.42" cy="230.19" r="2.5"/><circle cx="399.68" cy="230.19" r="2.5"/><circle cx="400.93" cy="230.19" r="2.5"/><circle cx="402.19" cy="230.19" r="2.5"/><circle cx="403.44" cy="230.19" r="2.5"/><circle cx="404.70" cy="230.19" r="2.5"/><circle cx="405.96" cy="230.19" r="2.5"/><circle cx="407.21" cy="230.19" r="2.5"/><circle cx="408.47" cy="230.19" r="2.5"/><circle cx="409.72" cy="230.19" r="2.5"/><circle cx="410.98" cy="230.19" r="2.5"/><circle cx="412.23" cy="230.19" r="2.5"/><circle cx="413.49" cy="230.19" r="2.5"/><circle cx="414.74" cy="230.19" r="2.5"/><circle cx="416.00" cy="230.19" r="2.5"/><circle cx="417.25" cy="230.19" r="2.5"/><circle cx="418.51" cy="230.19" r="2.5"/><circle cx="419.76" cy="230.19" r="2.5"/><circle cx="421.02" cy="230.19" r="2.5"/><circle cx="422.27" cy="230.19" r="2.5"/><circle cx="423.53" cy="230.19" r="2.5"/><circle cx="424.78" cy="230.19" r="2.5"/><circle cx="426.04" cy="230.19" r="2.5"/><circle cx="427.30" cy="230.20" r="2.5"/><circle cx="428.55" cy="230.20" r="2.5"/><circle cx="429.81" cy="230.20" r="2.5"/><circle cx="431.06" cy="230.20" r="2.5"/><circle cx="432.32" cy="230.20" r="2.5"/><circle cx="433.57" cy="230.20" r="2.5"/><circle cx="434.83" cy="230.20" r="2.5"/><circle cx="436.08" cy="230.20" r="2.5"/><circle cx="437.34" cy="230.20" r="2.5"/><circle cx="438.59" cy="230.20" r="2.5"/><circle cx="439.85" cy="230.20" r="2.5"/><circle cx="441.10" cy="230.20" r="2.5"/><circle cx="442.36" cy="230.20" r="2.5"/><circle cx="443.61" cy="230.20" r="2.5"/><circle cx="444.87" cy="230.20" r="2.5"/><circle cx="446.13" cy="230.20" r="2.5"/><circle cx="447.38" cy="230.20" r="2.5"/><circle cx="448.64" cy="230.20" r="2.5"/><circle cx="449.89" cy="230.20" r="2.5"/><circle cx="451.15" cy="230.20" r="2.5"/><circle cx="452.40" cy="230.20" r="2.5"/><circle cx="453.66" cy="230.20" r="2.5"/><circle cx="454.91" cy="230.20" r="2.5"/><circle cx="456.17" cy="230.20" r="2.5"/><circle cx="457.42" cy="230.20" r="2.5"/><circle cx="458.68" cy="230.20" r="2.5"/><circle cx="459.93" cy="230.20" r="2.5"/><circle cx="461.19" cy="230.20" r="2.5"/><circle cx="462.44" cy="230.20" r="2.5"/><circle cx="463.70" cy="230.20" r="2.5"/><circle cx="464.95" cy="230.20" r="2.5"/><circle cx="466.21" cy="230.20" r="2.5"/><circle cx="467.47" cy="230.20" r="2.5"/><circle cx="468.72" cy="230.20" r="2.5"/><circle cx="469.98" cy="230.20" r="2.5"/><circle cx="471.23" cy="230.20" r="2.5"/><circle cx="472.49" cy="230.20" r="2.5"/><circle cx="473.74" cy="230.20" r="2.5"/><circle cx="475.00" cy="230.20" r="2.5"/><circle cx="476.25" cy="230.20" r="2.5"/><circle cx="477.51" cy="230.20" r="2.5"/><circle cx="478.76" cy="230.20" r="2.5"/><circle cx="480.02" cy="230.20" r="2.5"/><circle cx="481.27" cy="230.20" r="2.5"/><circle cx="482.53" cy="230.20" r="2.5"/><circle cx="483.78" cy="230.20" r="2.5"/><circle cx="485.04" cy="230.20" r="2.5"/><circle cx="486.29" cy="230.20" r="2.5"/><circle cx="487.55" cy="230.20" r="2.5"/><circle cx="488.81" cy="230.20" r="2.5"/><circle cx="490.06" cy="230.20" r="2.5"/><circle cx="491.32" cy="230.20" r="2.5"/><circle cx="492.57" cy="230.20" r="2.5"/><circle cx="493.83" cy="230.20" r="2.5"/><circle cx="495.08" cy="230.20" r="2.5"/><circle cx="496.34" cy="230.20" r="2.5"/><circle cx="497.59" cy="230.20" r="2.5"/><circle cx="498.85" cy="230.20" r="2.5"/><circle cx="500.10" cy="230.20" r="2.5"/><circle cx="501.36" cy="230.20" r="2.5"/><circle cx="502.61" cy="230.20" r="2.5"/><circle cx="503.87" cy="230.20" r="2.5"/><circle cx="505.12" cy="230.20" r="2.5"/><circle cx="506.38" cy="230.20" r="2.5"/><circle cx="507.63" cy="230.20" r="2.5"/><circle cx="508.89" cy="230.20" r="2.5"/></g>
<g fill="#1767DB"><polyline points="133.56,197.70 134.81,194.30 136.07,194.02 137.32,193.76 138.58,193.51 139.83,193.26 141.09,193.02 142.34,192.79 143.60,192.55 144.85,192.31 146.11,192.07 147.36,191.81 148.62,191.54 149.87,191.25 151.13,190.94 152.38,190.61 153.64,190.26 154.90,189.87 156.15,189.45 157.41,188.99 158.66,188.50 159.92,187.96 161.17,187.38 162.43,186.74 163.68,186.06 164.94,185.32 166.19,184.52 167.45,183.66 168.70,182.73 169.96,181.74 171.21,180.69 172.47,179.57 173.72,178.39 174.98,177.14 176.24,175.83 177.49,174.46 178.75,173.02 180.00,171.52 181.26,169.96 182.51,168.33 183.77,166.65 185.02,164.92 186.28,163.15 187.53,161.35 188.79,159.52 190.04,157.69 191.30,155.85 192.55,154.01 193.81,152.19 195.06,150.40 196.32,148.63 197.58,146.91 198.83,145.23 200.09,143.61 201.34,142.05 202.60,140.56 203.85,139.15 205.11,137.82 206.36,136.59 207.62,135.45 208.87,134.43 210.13,133.52 211.38,132.74 212.64,132.09 213.89,131.58 215.15,131.21 216.41,130.99 217.66,130.91 218.92,130.96 220.17,131.12 221.43,131.40 222.68,131.78 223.94,132.24 225.19,132.80 226.45,133.42 227.70,134.12 228.96,134.87 230.21,135.66 231.47,136.50 232.72,137.36 233.98,138.24 235.23,139.14 236.49,140.04 237.75,140.93 239.00,141.81 240.26,142.69 241.51,143.55 242.77,144.41 244.02,145.25 245.28,146.08 246.53,146.90 247.79,147.71 249.04,148.50 250.30,149.28 251.55,150.05 252.81,150.81 254.06,151.54 255.32,152.27 256.57,152.98 257.83,153.67 259.09,154.35 260.34,155.01 261.60,155.65 262.85,156.27 264.11,156.88 265.36,157.47 266.62,158.03 267.87,158.58 269.13,159.11 270.38,159.62 271.64,160.11 272.89,160.57 274.15,161.02 275.40,161.44 276.66,161.84 277.91,162.22 279.17,162.57 280.43,162.91 281.68,163.23 282.94,163.53 284.19,163.81 285.45,164.08 286.70,164.33 287.96,164.56 289.21,164.77 290.47,164.97 291.72,165.16 292.98,165.33 294.23,165.49 295.49,165.63 296.74,165.77 298.00,165.89 299.25,166.00 300.51,166.10 301.77,166.20 303.02,166.28 304.28,166.35 305.53,166.42 306.79,166.48 308.04,166.53 309.30,166.57 310.55,166.61 311.81,166.65 313.06,166.68 314.32,166.71 315.57,166.73 316.83,166.75 318.08,166.77 319.34,166.79 320.60,166.81 321.85,166.83 323.11,166.85 324.36,166.86 325.62,166.88 326.87,166.89 328.13,166.91 329.38,166.93 330.64,166.94 331.89,166.96 333.15,166.97 334.40,166.98 335.66,167.00 336.91,167.01 338.17,167.02 339.42,167.04 340.68,167.05 341.94,167.06 343.19,167.07 344.45,167.09 345.70,167.10 346.96,167.11 348.21,167.12 349.47,167.13 350.72,167.14 351.98,167.15 353.23,167.16 354.49,167.17 355.74,167.18 357.00,167.18 358.25,167.19 359.51,167.20 360.76,167.21 362.02,167.22 363.28,167.22 364.53,167.23 365.79,167.24 367.04,167.24 368.30,167.25 369.55,167.26 370.81,167.26 372.06,167.27 373.32,167.27 374.57,167.28 375.83,167.28 377.08,167.29 378.34,167.29 379.59,167.30 380.85,167.30 382.10,167.31 383.36,167.31 384.62,167.31 385.87,167.32 387.13,167.32 388.38,167.32 389.64,167.33 390.89,167.33 392.15,167.33 393.40,167.33 394.66,167.34 395.91,167.34 397.17,167.34 398.42,167.34 399.68,167.34 400.93,167.34 402.19,167.35 403.44,167.35 404.70,167.35 405.96,167.35 407.21,167.35 408.47,167.35 409.72,167.35 410.98,167.35 412.23,167.35 413.49,167.35 414.74,167.35 416.00,167.35 417.25,167.35 418.51,167.35 419.76,167.35 421.02,167.35 422.27,167.35 423.53,167.35 424.78,167.35 426.04,167.35 427.30,167.35 428.55,167.34 429.81,167.34 431.06,167.34 432.32,167.34 433.57,167.34 434.83,167.34 436.08,167.34 437.34,167.34 438.59,167.33 439.85,167.33 441.10,167.33 442.36,167.33 443.61,167.33 444.87,167.33 446.13,167.33 447.38,167.32 448.64,167.32 449.89,167.32 451.15,167.32 452.40,167.32 453.66,167.32 454.91,167.31 456.17,167.31 457.42,167.31 458.68,167.31 459.93,167.31 461.19,167.31 462.44,167.30 463.70,167.30 464.95,167.30 466.21,167.30 467.47,167.30 468.72,167.30 469.98,167.29 471.23,167.29 472.49,167.29 473.74,167.29 475.00,167.29 476.25,167.29 477.51,167.29 478.76,167.29 480.02,167.28 481.27,167.28 482.53,167.28 483.78,167.28 485.04,167.28 486.29,167.28 487.55,167.28 488.81,167.28 490.06,167.28 491.32,167.28 492.57,167.28 493.83,167.28 495.08,167.28 496.34,167.28 497.59,167.28 498.85,167.28 500.10,167.28 501.36,167.28 502.61,167.28 503.87,167.28 505.12,167.29 506.38,167.29 507.63,167.29 508.89,167.29" fill="none" stroke="#1767DB" stroke-width="1.1"/><path d="M133.56 194.84L136.06 200.04L131.06 200.04ZM134.81 191.44L137.31 196.64L132.31 196.64ZM136.07 191.16L138.57 196.36L133.57 196.36ZM137.32 190.90L139.82 196.10L134.82 196.10ZM138.58 190.65L141.08 195.85L136.08 195.85ZM139.83 190.40L142.33 195.60L137.33 195.60ZM141.09 190.16L143.59 195.36L138.59 195.36ZM142.34 189.93L144.84 195.13L139.84 195.13ZM143.60 189.69L146.10 194.89L141.10 194.89ZM144.85 189.45L147.35 194.65L142.35 194.65ZM146.11 189.21L148.61 194.41L143.61 194.41ZM147.36 188.95L149.86 194.15L144.86 194.15ZM148.62 188.68L151.12 193.88L146.12 193.88ZM149.87 188.39L152.37 193.59L147.37 193.59ZM151.13 188.08L153.63 193.28L148.63 193.28ZM152.38 187.75L154.88 192.95L149.88 192.95ZM153.64 187.40L156.14 192.60L151.14 192.60ZM154.90 187.01L157.40 192.21L152.40 192.21ZM156.15 186.59L158.65 191.79L153.65 191.79ZM157.41 186.13L159.91 191.33L154.91 191.33ZM158.66 185.64L161.16 190.84L156.16 190.84ZM159.92 185.10L162.42 190.30L157.42 190.30ZM161.17 184.52L163.67 189.72L158.67 189.72ZM162.43 183.88L164.93 189.08L159.93 189.08ZM163.68 183.20L166.18 188.40L161.18 188.40ZM164.94 182.46L167.44 187.66L162.44 187.66ZM166.19 181.66L168.69 186.86L163.69 186.86ZM167.45 180.80L169.95 186.00L164.95 186.00ZM168.70 179.87L171.20 185.07L166.20 185.07ZM169.96 178.88L172.46 184.08L167.46 184.08ZM171.21 177.83L173.71 183.03L168.71 183.03ZM172.47 176.71L174.97 181.91L169.97 181.91ZM173.72 175.53L176.22 180.73L171.22 180.73ZM174.98 174.28L177.48 179.48L172.48 179.48ZM176.24 172.97L178.74 178.17L173.74 178.17ZM177.49 171.60L179.99 176.80L174.99 176.80ZM178.75 170.16L181.25 175.36L176.25 175.36ZM180.00 168.66L182.50 173.86L177.50 173.86ZM181.26 167.10L183.76 172.30L178.76 172.30ZM182.51 165.47L185.01 170.67L180.01 170.67ZM183.77 163.79L186.27 168.99L181.27 168.99ZM185.02 162.06L187.52 167.26L182.52 167.26ZM186.28 160.29L188.78 165.49L183.78 165.49ZM187.53 158.49L190.03 163.69L185.03 163.69ZM188.79 156.66L191.29 161.86L186.29 161.86ZM190.04 154.83L192.54 160.03L187.54 160.03ZM191.30 152.99L193.80 158.19L188.80 158.19ZM192.55 151.15L195.05 156.35L190.05 156.35ZM193.81 149.33L196.31 154.53L191.31 154.53ZM195.06 147.54L197.56 152.74L192.56 152.74ZM196.32 145.77L198.82 150.97L193.82 150.97ZM197.58 144.05L200.08 149.25L195.08 149.25ZM198.83 142.37L201.33 147.57L196.33 147.57ZM200.09 140.75L202.59 145.95L197.59 145.95ZM201.34 139.19L203.84 144.39L198.84 144.39ZM202.60 137.70L205.10 142.90L200.10 142.90ZM203.85 136.29L206.35 141.49L201.35 141.49ZM205.11 134.96L207.61 140.16L202.61 140.16ZM206.36 133.73L208.86 138.93L203.86 138.93ZM207.62 132.59L210.12 137.79L205.12 137.79ZM208.87 131.57L211.37 136.77L206.37 136.77ZM210.13 130.66L212.63 135.86L207.63 135.86ZM211.38 129.88L213.88 135.08L208.88 135.08ZM212.64 129.23L215.14 134.43L210.14 134.43ZM213.89 128.72L216.39 133.92L211.39 133.92ZM215.15 128.35L217.65 133.55L212.65 133.55ZM216.41 128.13L218.91 133.33L213.91 133.33ZM217.66 128.05L220.16 133.25L215.16 133.25ZM218.92 128.10L221.42 133.30L216.42 133.30ZM220.17 128.26L222.67 133.46L217.67 133.46ZM221.43 128.54L223.93 133.74L218.93 133.74ZM222.68 128.92L225.18 134.12L220.18 134.12ZM223.94 129.38L226.44 134.58L221.44 134.58ZM225.19 129.94L227.69 135.14L222.69 135.14ZM226.45 130.56L228.95 135.76L223.95 135.76ZM227.70 131.26L230.20 136.46L225.20 136.46ZM228.96 132.01L231.46 137.21L226.46 137.21ZM230.21 132.80L232.71 138.00L227.71 138.00ZM231.47 133.64L233.97 138.84L228.97 138.84ZM232.72 134.50L235.22 139.70L230.22 139.70ZM233.98 135.38L236.48 140.58L231.48 140.58ZM235.23 136.28L237.73 141.48L232.73 141.48ZM236.49 137.18L238.99 142.38L233.99 142.38ZM237.75 138.07L240.25 143.27L235.25 143.27ZM239.00 138.95L241.50 144.15L236.50 144.15ZM240.26 139.83L242.76 145.03L237.76 145.03ZM241.51 140.69L244.01 145.89L239.01 145.89ZM242.77 141.55L245.27 146.75L240.27 146.75ZM244.02 142.39L246.52 147.59L241.52 147.59ZM245.28 143.22L247.78 148.42L242.78 148.42ZM246.53 144.04L249.03 149.24L244.03 149.24ZM247.79 144.85L250.29 150.05L245.29 150.05ZM249.04 145.64L251.54 150.84L246.54 150.84ZM250.30 146.42L252.80 151.62L247.80 151.62ZM251.55 147.19L254.05 152.39L249.05 152.39ZM252.81 147.95L255.31 153.15L250.31 153.15ZM254.06 148.68L256.56 153.88L251.56 153.88ZM255.32 149.41L257.82 154.61L252.82 154.61ZM256.57 150.12L259.07 155.32L254.07 155.32ZM257.83 150.81L260.33 156.01L255.33 156.01ZM259.09 151.49L261.59 156.69L256.59 156.69ZM260.34 152.15L262.84 157.35L257.84 157.35ZM261.60 152.79L264.10 157.99L259.10 157.99ZM262.85 153.41L265.35 158.61L260.35 158.61ZM264.11 154.02L266.61 159.22L261.61 159.22ZM265.36 154.61L267.86 159.81L262.86 159.81ZM266.62 155.17L269.12 160.37L264.12 160.37ZM267.87 155.72L270.37 160.92L265.37 160.92ZM269.13 156.25L271.63 161.45L266.63 161.45ZM270.38 156.76L272.88 161.96L267.88 161.96ZM271.64 157.25L274.14 162.45L269.14 162.45ZM272.89 157.71L275.39 162.91L270.39 162.91ZM274.15 158.16L276.65 163.36L271.65 163.36ZM275.40 158.58L277.90 163.78L272.90 163.78ZM276.66 158.98L279.16 164.18L274.16 164.18ZM277.91 159.36L280.41 164.56L275.41 164.56ZM279.17 159.71L281.67 164.91L276.67 164.91ZM280.43 160.05L282.93 165.25L277.93 165.25ZM281.68 160.37L284.18 165.57L279.18 165.57ZM282.94 160.67L285.44 165.87L280.44 165.87ZM284.19 160.95L286.69 166.15L281.69 166.15ZM285.45 161.22L287.95 166.42L282.95 166.42ZM286.70 161.47L289.20 166.67L284.20 166.67ZM287.96 161.70L290.46 166.90L285.46 166.90ZM289.21 161.91L291.71 167.11L286.71 167.11ZM290.47 162.11L292.97 167.31L287.97 167.31ZM291.72 162.30L294.22 167.50L289.22 167.50ZM292.98 162.47L295.48 167.67L290.48 167.67ZM294.23 162.63L296.73 167.83L291.73 167.83ZM295.49 162.77L297.99 167.97L292.99 167.97ZM296.74 162.91L299.24 168.11L294.24 168.11ZM298.00 163.03L300.50 168.23L295.50 168.23ZM299.25 163.14L301.75 168.34L296.75 168.34ZM300.51 163.24L303.01 168.44L298.01 168.44ZM301.77 163.34L304.27 168.54L299.27 168.54ZM303.02 163.42L305.52 168.62L300.52 168.62ZM304.28 163.49L306.78 168.69L301.78 168.69ZM305.53 163.56L308.03 168.76L303.03 168.76ZM306.79 163.62L309.29 168.82L304.29 168.82ZM308.04 163.67L310.54 168.87L305.54 168.87ZM309.30 163.71L311.80 168.91L306.80 168.91ZM310.55 163.75L313.05 168.95L308.05 168.95ZM311.81 163.79L314.31 168.99L309.31 168.99ZM313.06 163.82L315.56 169.02L310.56 169.02ZM314.32 163.85L316.82 169.05L311.82 169.05ZM315.57 163.87L318.07 169.07L313.07 169.07ZM316.83 163.89L319.33 169.09L314.33 169.09ZM318.08 163.91L320.58 169.11L315.58 169.11ZM319.34 163.93L321.84 169.13L316.84 169.13ZM320.60 163.95L323.10 169.15L318.10 169.15ZM321.85 163.97L324.35 169.17L319.35 169.17ZM323.11 163.99L325.61 169.19L320.61 169.19ZM324.36 164.00L326.86 169.20L321.86 169.20ZM325.62 164.02L328.12 169.22L323.12 169.22ZM326.87 164.03L329.37 169.23L324.37 169.23ZM328.13 164.05L330.63 169.25L325.63 169.25ZM329.38 164.07L331.88 169.27L326.88 169.27ZM330.64 164.08L333.14 169.28L328.14 169.28ZM331.89 164.10L334.39 169.30L329.39 169.30ZM333.15 164.11L335.65 169.31L330.65 169.31ZM334.40 164.12L336.90 169.32L331.90 169.32ZM335.66 164.14L338.16 169.34L333.16 169.34ZM336.91 164.15L339.41 169.35L334.41 169.35ZM338.17 164.16L340.67 169.36L335.67 169.36ZM339.42 164.18L341.92 169.38L336.92 169.38ZM340.68 164.19L343.18 169.39L338.18 169.39ZM341.94 164.20L344.44 169.40L339.44 169.40ZM343.19 164.21L345.69 169.41L340.69 169.41ZM344.45 164.23L346.95 169.43L341.95 169.43ZM345.70 164.24L348.20 169.44L343.20 169.44ZM346.96 164.25L349.46 169.45L344.46 169.45ZM348.21 164.26L350.71 169.46L345.71 169.46ZM349.47 164.27L351.97 169.47L346.97 169.47ZM350.72 164.28L353.22 169.48L348.22 169.48ZM351.98 164.29L354.48 169.49L349.48 169.49ZM353.23 164.30L355.73 169.50L350.73 169.50ZM354.49 164.31L356.99 169.51L351.99 169.51ZM355.74 164.32L358.24 169.52L353.24 169.52ZM357.00 164.32L359.50 169.52L354.50 169.52ZM358.25 164.33L360.75 169.53L355.75 169.53ZM359.51 164.34L362.01 169.54L357.01 169.54ZM360.76 164.35L363.26 169.55L358.26 169.55ZM362.02 164.36L364.52 169.56L359.52 169.56ZM363.28 164.36L365.78 169.56L360.78 169.56ZM364.53 164.37L367.03 169.57L362.03 169.57ZM365.79 164.38L368.29 169.58L363.29 169.58ZM367.04 164.38L369.54 169.58L364.54 169.58ZM368.30 164.39L370.80 169.59L365.80 169.59ZM369.55 164.40L372.05 169.60L367.05 169.60ZM370.81 164.40L373.31 169.60L368.31 169.60ZM372.06 164.41L374.56 169.61L369.56 169.61ZM373.32 164.41L375.82 169.61L370.82 169.61ZM374.57 164.42L377.07 169.62L372.07 169.62ZM375.83 164.42L378.33 169.62L373.33 169.62ZM377.08 164.43L379.58 169.63L374.58 169.63ZM378.34 164.43L380.84 169.63L375.84 169.63ZM379.59 164.44L382.09 169.64L377.09 169.64ZM380.85 164.44L383.35 169.64L378.35 169.64ZM382.10 164.45L384.60 169.65L379.60 169.65ZM383.36 164.45L385.86 169.65L380.86 169.65ZM384.62 164.45L387.12 169.65L382.12 169.65ZM385.87 164.46L388.37 169.66L383.37 169.66ZM387.13 164.46L389.63 169.66L384.63 169.66ZM388.38 164.46L390.88 169.66L385.88 169.66ZM389.64 164.47L392.14 169.67L387.14 169.67ZM390.89 164.47L393.39 169.67L388.39 169.67ZM392.15 164.47L394.65 169.67L389.65 169.67ZM393.40 164.47L395.90 169.67L390.90 169.67ZM394.66 164.48L397.16 169.68L392.16 169.68ZM395.91 164.48L398.41 169.68L393.41 169.68ZM397.17 164.48L399.67 169.68L394.67 169.68ZM398.42 164.48L400.92 169.68L395.92 169.68ZM399.68 164.48L402.18 169.68L397.18 169.68ZM400.93 164.48L403.43 169.68L398.43 169.68ZM402.19 164.49L404.69 169.69L399.69 169.69ZM403.44 164.49L405.94 169.69L400.94 169.69ZM404.70 164.49L407.20 169.69L402.20 169.69ZM405.96 164.49L408.46 169.69L403.46 169.69ZM407.21 164.49L409.71 169.69L404.71 169.69ZM408.47 164.49L410.97 169.69L405.97 169.69ZM409.72 164.49L412.22 169.69L407.22 169.69ZM410.98 164.49L413.48 169.69L408.48 169.69ZM412.23 164.49L414.73 169.69L409.73 169.69ZM413.49 164.49L415.99 169.69L410.99 169.69ZM414.74 164.49L417.24 169.69L412.24 169.69ZM416.00 164.49L418.50 169.69L413.50 169.69ZM417.25 164.49L419.75 169.69L414.75 169.69ZM418.51 164.49L421.01 169.69L416.01 169.69ZM419.76 164.49L422.26 169.69L417.26 169.69ZM421.02 164.49L423.52 169.69L418.52 169.69ZM422.27 164.49L424.77 169.69L419.77 169.69ZM423.53 164.49L426.03 169.69L421.03 169.69ZM424.78 164.49L427.28 169.69L422.28 169.69ZM426.04 164.49L428.54 169.69L423.54 169.69ZM427.30 164.49L429.80 169.69L424.80 169.69ZM428.55 164.48L431.05 169.68L426.05 169.68ZM429.81 164.48L432.31 169.68L427.31 169.68ZM431.06 164.48L433.56 169.68L428.56 169.68ZM432.32 164.48L434.82 169.68L429.82 169.68ZM433.57 164.48L436.07 169.68L431.07 169.68ZM434.83 164.48L437.33 169.68L432.33 169.68ZM436.08 164.48L438.58 169.68L433.58 169.68ZM437.34 164.48L439.84 169.68L434.84 169.68ZM438.59 164.47L441.09 169.67L436.09 169.67ZM439.85 164.47L442.35 169.67L437.35 169.67ZM441.10 164.47L443.60 169.67L438.60 169.67ZM442.36 164.47L444.86 169.67L439.86 169.67ZM443.61 164.47L446.11 169.67L441.11 169.67ZM444.87 164.47L447.37 169.67L442.37 169.67ZM446.13 164.47L448.63 169.67L443.63 169.67ZM447.38 164.46L449.88 169.66L444.88 169.66ZM448.64 164.46L451.14 169.66L446.14 169.66ZM449.89 164.46L452.39 169.66L447.39 169.66ZM451.15 164.46L453.65 169.66L448.65 169.66ZM452.40 164.46L454.90 169.66L449.90 169.66ZM453.66 164.46L456.16 169.66L451.16 169.66ZM454.91 164.45L457.41 169.65L452.41 169.65ZM456.17 164.45L458.67 169.65L453.67 169.65ZM457.42 164.45L459.92 169.65L454.92 169.65ZM458.68 164.45L461.18 169.65L456.18 169.65ZM459.93 164.45L462.43 169.65L457.43 169.65ZM461.19 164.45L463.69 169.65L458.69 169.65ZM462.44 164.44L464.94 169.64L459.94 169.64ZM463.70 164.44L466.20 169.64L461.20 169.64ZM464.95 164.44L467.45 169.64L462.45 169.64ZM466.21 164.44L468.71 169.64L463.71 169.64ZM467.47 164.44L469.97 169.64L464.97 169.64ZM468.72 164.44L471.22 169.64L466.22 169.64ZM469.98 164.43L472.48 169.63L467.48 169.63ZM471.23 164.43L473.73 169.63L468.73 169.63ZM472.49 164.43L474.99 169.63L469.99 169.63ZM473.74 164.43L476.24 169.63L471.24 169.63ZM475.00 164.43L477.50 169.63L472.50 169.63ZM476.25 164.43L478.75 169.63L473.75 169.63ZM477.51 164.43L480.01 169.63L475.01 169.63ZM478.76 164.43L481.26 169.63L476.26 169.63ZM480.02 164.42L482.52 169.62L477.52 169.62ZM481.27 164.42L483.77 169.62L478.77 169.62ZM482.53 164.42L485.03 169.62L480.03 169.62ZM483.78 164.42L486.28 169.62L481.28 169.62ZM485.04 164.42L487.54 169.62L482.54 169.62ZM486.29 164.42L488.79 169.62L483.79 169.62ZM487.55 164.42L490.05 169.62L485.05 169.62ZM488.81 164.42L491.31 169.62L486.31 169.62ZM490.06 164.42L492.56 169.62L487.56 169.62ZM491.32 164.42L493.82 169.62L488.82 169.62ZM492.57 164.42L495.07 169.62L490.07 169.62ZM493.83 164.42L496.33 169.62L491.33 169.62ZM495.08 164.42L497.58 169.62L492.58 169.62ZM496.34 164.42L498.84 169.62L493.84 169.62ZM497.59 164.42L500.09 169.62L495.09 169.62ZM498.85 164.42L501.35 169.62L496.35 169.62ZM500.10 164.42L502.60 169.62L497.60 169.62ZM501.36 164.42L503.86 169.62L498.86 169.62ZM502.61 164.42L505.11 169.62L500.11 169.62ZM503.87 164.42L506.37 169.62L501.37 169.62ZM505.12 164.43L507.62 169.63L502.62 169.63ZM506.38 164.43L508.88 169.63L503.88 169.63ZM507.63 164.43L510.13 169.63L505.13 169.63ZM508.89 164.43L511.39 169.63L506.39 169.63Z"/></g>
<line x1="100.9" y1="194.4" x2="539.8" y2="194.4" stroke="#5c5c5c" stroke-width="1" stroke-dasharray="10 3.4"/>
<rect x="101.0" y="16.8" width="438.9" height="354.1" fill="none" stroke="#333333" stroke-width="1.8"/>
<path d="M98.0 61.60H101.0M94.5 105.90H101.0M98.0 150.20H101.0M94.5 194.50H101.0M98.0 238.80H101.0M94.5 283.10H101.0M98.0 327.40H101.0M101.15 370.9V374.9M132.50 370.9V378.9M163.85 370.9V374.9M195.20 370.9V378.9M226.55 370.9V374.9M257.90 370.9V378.9M289.25 370.9V374.9M320.60 370.9V378.9M351.95 370.9V374.9M383.30 370.9V378.9M414.65 370.9V374.9M446.00 370.9V378.9M477.35 370.9V374.9M508.70 370.9V378.9M540.05 370.9V374.9" stroke="#1a1a1a" stroke-width="1.1" fill="none"/>
<path d="M94.5 16.8H101.0M94.5 370.9H101.0" stroke="#333333" stroke-width="1.8" fill="none"/>
<text transform="translate(89.3 21.20) scale(0.91 1)" text-anchor="end" font-family="Liberation Sans, Arial, sans-serif" font-weight="bold" font-size="15.6">0.4</text>
<text transform="translate(89.3 109.70) scale(0.91 1)" text-anchor="end" font-family="Liberation Sans, Arial, sans-serif" font-weight="bold" font-size="15.6">0.2</text>
<text transform="translate(89.3 198.20) scale(0.91 1)" text-anchor="end" font-family="Liberation Sans, Arial, sans-serif" font-weight="bold" font-size="15.6">0.0</text>
<text transform="translate(89.3 286.70) scale(0.91 1)" text-anchor="end" font-family="Liberation Sans, Arial, sans-serif" font-weight="bold" font-size="15.6">-0.2</text>
<text transform="translate(89.3 375.20) scale(0.91 1)" text-anchor="end" font-family="Liberation Sans, Arial, sans-serif" font-weight="bold" font-size="15.6">-0.4</text>
<text transform="translate(132.20 394.3) scale(0.975 1)" text-anchor="middle" font-family="Liberation Sans, Arial, sans-serif" font-weight="bold" font-size="15">0.0000</text>
<text transform="translate(194.90 394.3) scale(0.975 1)" text-anchor="middle" font-family="Liberation Sans, Arial, sans-serif" font-weight="bold" font-size="15">0.0005</text>
<text transform="translate(257.60 394.3) scale(0.975 1)" text-anchor="middle" font-family="Liberation Sans, Arial, sans-serif" font-weight="bold" font-size="15">0.0010</text>
<text transform="translate(320.30 394.3) scale(0.975 1)" text-anchor="middle" font-family="Liberation Sans, Arial, sans-serif" font-weight="bold" font-size="15">0.0015</text>
<text transform="translate(383.00 394.3) scale(0.975 1)" text-anchor="middle" font-family="Liberation Sans, Arial, sans-serif" font-weight="bold" font-size="15">0.0020</text>
<text transform="translate(445.70 394.3) scale(0.975 1)" text-anchor="middle" font-family="Liberation Sans, Arial, sans-serif" font-weight="bold" font-size="15">0.0025</text>
<text transform="translate(508.40 394.3) scale(0.975 1)" text-anchor="middle" font-family="Liberation Sans, Arial, sans-serif" font-weight="bold" font-size="15">0.0030</text>
<text y="424" font-family="Liberation Sans, Arial, sans-serif" font-size="18.2"><tspan x="286.6" letter-spacing="0.2">Time</tspan><tspan x="333.0">(s)</tspan></text>
<g transform="translate(24 200.6) rotate(-90)"><text x="0" y="0" text-anchor="middle" font-family="Liberation Sans, Arial, sans-serif" font-size="18.5">Relative differences of different modes of Λ</text></g>
<g transform="translate(46.7 200.2) rotate(-90)"><text x="0" y="0" text-anchor="middle" font-family="Liberation Sans, Arial, sans-serif" font-size="18.5">(Fast spectrum — beam trip)</text></g>
<rect x="407.5" y="39.8" width="105" height="58.9" fill="#fff" stroke="#444" stroke-width="1"/>
<line x1="409.2" y1="50.1" x2="443.2" y2="50.1" stroke="#474747" stroke-width="1.2"/>
<rect x="423.7" y="48.1" width="4.0" height="4.0" fill="#474747"/>
<text x="447.2" y="55.4" font-family="Liberation Sans, Arial, sans-serif" font-size="15.2">keff=0.95</text>
<line x1="409.2" y1="68.8" x2="443.2" y2="68.8" stroke="#E8353A" stroke-width="1.2"/>
<circle cx="425.7" cy="68.8" r="2.3" fill="#E8353A"/>
<text x="447.2" y="74.1" font-family="Liberation Sans, Arial, sans-serif" font-size="15.2">keff=0.97</text>
<line x1="409.2" y1="87.2" x2="443.2" y2="87.2" stroke="#1767DB" stroke-width="1.2"/>
<path d="M425.7 84.3L428.3 89.0L423.09999999999997 89.0Z" fill="#1767DB"/>
<text x="447.2" y="92.5" font-family="Liberation Sans, Arial, sans-serif" font-size="15.2">keff=0.99</text>
</svg>
</body></html>
